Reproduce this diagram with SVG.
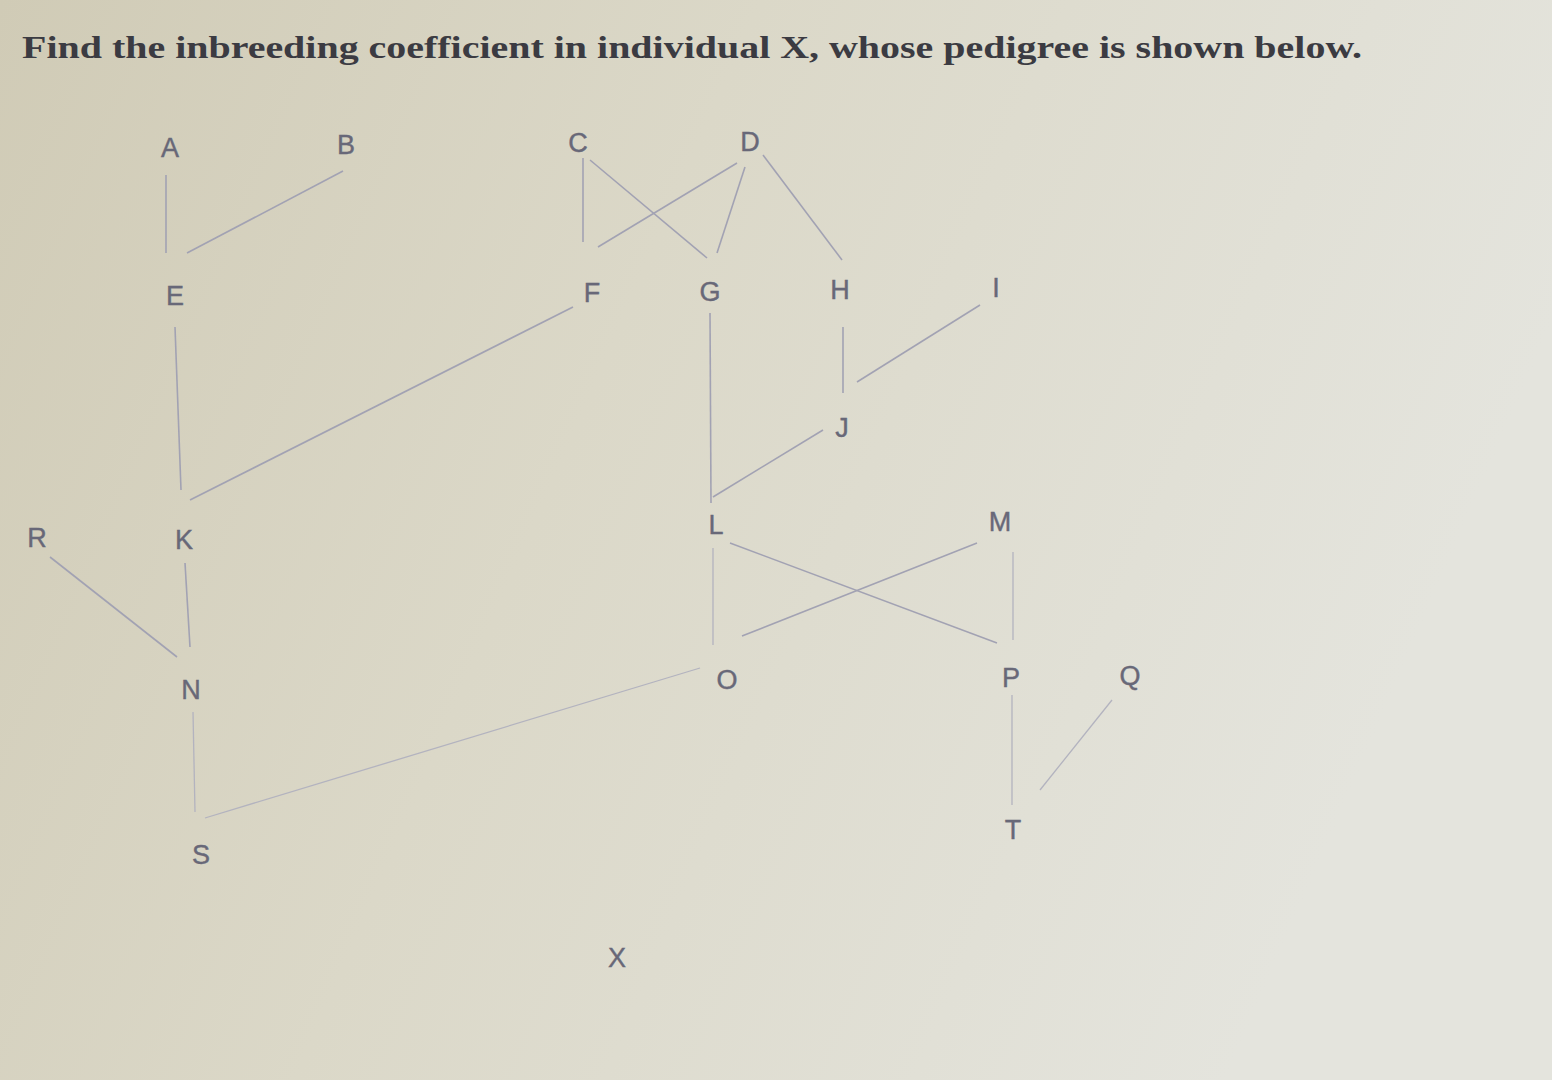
<svg xmlns="http://www.w3.org/2000/svg" width="1552" height="1080" viewBox="0 0 1552 1080">
<defs>
<linearGradient id="bg" x1="0" y1="0" x2="1" y2="0.3">
<stop offset="0" stop-color="#d0cbb6"/>
<stop offset="0.45" stop-color="#dbd8c8"/>
<stop offset="1" stop-color="#e4e4dd"/>
</linearGradient>
<style>
.t{font-family:"Liberation Sans",Arial,sans-serif;font-size:27px;fill:#686878;text-anchor:middle;stroke:#686878;stroke-width:0.4}
.c line{stroke:#a2a2b3;stroke-width:1.6;fill:none}
.c .f{stroke:#b3b3bf;stroke-width:1.3}
</style>
</defs>
<rect width="1552" height="1080" fill="url(#bg)"/>
<text x="22" y="58" font-family="'Liberation Serif','Times New Roman',serif" font-weight="bold" font-size="32" fill="#3b3b42" textLength="1340" lengthAdjust="spacingAndGlyphs">Find the inbreeding coefficient in individual X, whose pedigree is shown below.</text>
<g id="connectors" class="c">
<line x1="166" y1="175" x2="166" y2="253"/>
<line x1="343" y1="171" x2="187" y2="253"/>
<line x1="583" y1="158" x2="583" y2="242"/>
<line x1="590" y1="160" x2="707" y2="258"/>
<line x1="737" y1="163" x2="598" y2="247"/>
<line x1="745" y1="167" x2="717" y2="253"/>
<line x1="763" y1="155" x2="842" y2="260"/>
<line x1="175" y1="327" x2="181" y2="490"/>
<line x1="573" y1="307" x2="190" y2="500"/>
<line x1="710" y1="313" x2="711" y2="503"/>
<line x1="843" y1="327" x2="843" y2="393"/>
<line x1="980" y1="305" x2="857" y2="382"/>
<line x1="823" y1="430" x2="713" y2="497"/>
<line x1="50" y1="557" x2="177" y2="657"/>
<line x1="185" y1="563" x2="190" y2="647"/>
<line class="f" x1="713" y1="548" x2="713" y2="645"/>
<line x1="730" y1="543" x2="997" y2="643"/>
<line x1="742" y1="636" x2="977" y2="543"/>
<line class="f" x1="1013" y1="552" x2="1013" y2="640"/>
<line class="f" x1="193" y1="712" x2="195" y2="812"/>
<line class="f" x1="205" y1="818" x2="700" y2="668"/>
<line class="f" x1="1012" y1="695" x2="1012" y2="805"/>
<line class="f" x1="1112" y1="700" x2="1040" y2="790"/>
</g>
<g id="A"><text class="t" x="170" y="157">A</text></g>
<g id="B"><text class="t" x="346" y="154">B</text></g>
<g id="C"><text class="t" x="578" y="152">C</text></g>
<g id="D"><text class="t" x="750" y="151">D</text></g>
<g id="E"><text class="t" x="175" y="305">E</text></g>
<g id="F"><text class="t" x="592" y="302">F</text></g>
<g id="G"><text class="t" x="710" y="301">G</text></g>
<g id="H"><text class="t" x="840" y="299">H</text></g>
<g id="I"><text class="t" x="996" y="297">I</text></g>
<g id="J"><text class="t" x="842" y="437">J</text></g>
<g id="R"><text class="t" x="37" y="547">R</text></g>
<g id="K"><text class="t" x="184" y="549">K</text></g>
<g id="L"><text class="t" x="716" y="534">L</text></g>
<g id="M"><text class="t" x="1000" y="531">M</text></g>
<g id="N"><text class="t" x="191" y="699">N</text></g>
<g id="O"><text class="t" x="727" y="689">O</text></g>
<g id="P"><text class="t" x="1011" y="687">P</text></g>
<g id="Q"><text class="t" x="1130" y="685">Q</text></g>
<g id="S"><text class="t" x="201" y="864">S</text></g>
<g id="T"><text class="t" x="1013" y="839">T</text></g>
<g id="X"><text class="t" x="617" y="967">X</text></g>
</svg>
